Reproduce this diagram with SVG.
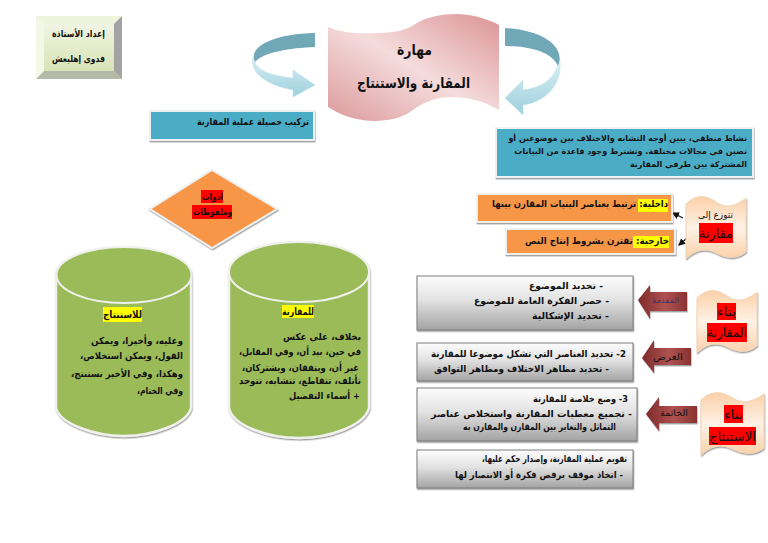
<svg xmlns="http://www.w3.org/2000/svg" width="768" height="543" viewBox="0 0 768 543">
<style>
text{font-family:"DejaVu Sans","Noto Sans",sans-serif;font-weight:bold;fill:#111;direction:rtl;text-anchor:start}
.c{text-anchor:middle}
.s{font-size:9.500px}
.t{font-size:15px}
.n{font-weight:normal}
.blue{fill:#4bacc6;stroke:#eef1f3;stroke-width:2;filter:url(#sh)}
.org{fill:#f79646;stroke:#eef0f0;stroke-width:2;filter:url(#sh)}
.gray{fill:url(#g);stroke:#7f7f7f;stroke-width:1;filter:url(#sh)}
.cy{fill:#9bbb59;stroke:#f0f0ec;stroke-width:2.500;filter:url(#sh)}
.wave{fill:url(#w);stroke:#f2d6b8;stroke-width:1;filter:url(#sh)}
.arr{fill:url(#a);filter:url(#sh)}
</style>
<defs>
<filter id="sh" x="-10%" y="-10%" width="120%" height="125%"><feDropShadow dx="0.6" dy="1.4" stdDeviation="0.7" flood-color="#555" flood-opacity="0.55"/></filter>
<linearGradient id="g" x1="0" y1="0" x2="0" y2="1"><stop offset="0" stop-color="#fdfdfd"/><stop offset="0.45" stop-color="#e2e2e2"/><stop offset="1" stop-color="#a3a3a3"/></linearGradient>
<linearGradient id="w" x1="0" y1="0" x2="0" y2="1"><stop offset="0" stop-color="#fbd0a8"/><stop offset="0.5" stop-color="#fff2e6"/><stop offset="1" stop-color="#fbd0a8"/></linearGradient>
<linearGradient id="a" x1="0" y1="0" x2="1" y2="0"><stop offset="0" stop-color="#7f2a2a"/><stop offset="0.55" stop-color="#b05252"/><stop offset="1" stop-color="#8a3232"/></linearGradient>
<linearGradient id="fl" x1="0" y1="1" x2="1" y2="0"><stop offset="0" stop-color="#dc9a9c"/><stop offset="0.5" stop-color="#f5dcdc"/><stop offset="1" stop-color="#dc9496"/></linearGradient>
<linearGradient id="bb" x1="0" y1="0" x2="0" y2="1"><stop offset="0" stop-color="#f4f8ea"/><stop offset="1" stop-color="#d3e0ae"/></linearGradient>
<linearGradient id="ca" x1="0" y1="0" x2="0" y2="1"><stop offset="0" stop-color="#d8eef4"/><stop offset="1" stop-color="#9dd0de"/></linearGradient>
<path id="wv" d="M0 7C10 -3 20 -2 30 5S50 9 60 1V55C50 63 40 61 30 56S10 52 0 62Z"/>
<marker id="tip" markerWidth="6" markerHeight="6" refX="5" refY="3" orient="auto"><path d="M0 0L6 3L0 6Z" fill="#111"/></marker>
</defs>

<g id="connectors">
<path d="M683 218L673 213" stroke="#111" stroke-width="1.200" fill="none" marker-end="url(#tip)"/>
<path d="M687 238L679 245" stroke="#111" stroke-width="1.200" fill="none" marker-end="url(#tip)"/>
</g>

<g id="author">
<rect x="36" y="16" width="86" height="63" fill="url(#bb)"/>
<path d="M36 16H122L114 24H44Z" fill="#eef4dc"/><path d="M122 16V79L114 71V24Z" fill="#a3a3a3"/><path d="M36 79H122L114 71H44Z" fill="#b5b9a8"/><path d="M36 16V79L44 71V24Z" fill="#f3f8e6"/>
<text x="105" y="37" font-size="9.500" textLength="53" lengthAdjust="spacingAndGlyphs">إعداد الأستاذة</text>
<text x="105" y="62" font-size="9.500" textLength="53" lengthAdjust="spacingAndGlyphs">فدوى إهليعش</text>
</g>

<g id="arrow-left">
<path d="M315 33V47C290 48 264 52 255 62C248 48 270 34 315 33Z" fill="#70a8b8"/>
<path d="M253 57C249 76 272 86 293 90V97L315 85L293 70V78C275 76 258 72 255 62Z" fill="url(#ca)" stroke="#bfe0e8" stroke-width="0.500"/>
</g>
<g id="arrow-right">
<path d="M505 28V46C530 46 552 52 558 66C566 48 545 30 505 28Z" fill="#70a8b8"/>
<path d="M560 62C562 85 545 102 523 105V115L505 98L523 80V90C540 88 553 80 557 67Z" fill="url(#ca)" stroke="#bfe0e8" stroke-width="0.500"/>
</g>

<g id="title">
<path d="M328 27C342 33 360 34 378 33C395 33 405 30 412 26C425 17 440 14 458 14C475 15 488 19 499 25V110C485 102 470 97 452 97C435 97 422 103 410 112C400 119 385 121 372 121C355 120 340 115 328 107Z" fill="url(#fl)"/>
<text class="t" x="432" y="55" textLength="35" lengthAdjust="spacingAndGlyphs">مهارة</text>
<text class="t" x="470" y="88" textLength="113" lengthAdjust="spacingAndGlyphs">المقارنة والاستنتاج</text>
</g>

<g id="box-synthesis">
<rect class="blue" x="150" y="111" width="164" height="29"/>
<text class="s" x="309" y="125" textLength="112" lengthAdjust="spacingAndGlyphs">تركيب حصيلة عملية المقارنة</text>
</g>

<g id="box-definition">
<rect class="blue" x="496" y="128" width="257" height="49"/>
<text x="747" y="141" font-size="8">نشاط منطقي، يبين أوجه التشابه والاختلاف بين موضوعين أو</text>
<text x="747" y="154" font-size="8">نصين في مجالات مختلفة. وتشترط وجود قاعدة من البيانات</text>
<text x="747" y="167" font-size="8">المشتركة بين طرفي المقارنة</text>
</g>

<g id="box-internal">
<rect class="org" x="477" y="194" width="195" height="28"/>
<rect x="638" y="199" width="30" height="13" fill="#ff0"/>
<text class="s" x="668" y="207" textLength="176" lengthAdjust="spacingAndGlyphs">داخلية: ترتبط بعناصر البنيات المقارن بينها</text>
</g>
<g id="box-external">
<rect class="org" x="506" y="229" width="169" height="25"/>
<rect x="633" y="236" width="36" height="12" fill="#ff0"/>
<text class="s" x="669" y="244" textLength="144" lengthAdjust="spacingAndGlyphs">خارجية: تقترن بشروط إنتاج النص</text>
</g>

<g id="wave-types">
<use href="#wv" class="wave" transform="translate(686,197)"/>
<rect x="699" y="223" width="34" height="20" fill="#f00"/>
<text class="n" x="733" y="218" font-size="9.500" textLength="35" lengthAdjust="spacingAndGlyphs">تتوزع إلى</text>
<text class="n" x="733" y="238" font-size="13" textLength="34" lengthAdjust="spacingAndGlyphs">مقارنة</text>
</g>

<g id="diamond">
<path class="org" d="M212 170L277 209L212 248L150 209Z"/>
<rect x="201" y="190" width="22" height="13" fill="#f00"/>
<rect x="192" y="205" width="40" height="14" fill="#f00"/>
<text x="223" y="200" font-size="9" textLength="21" lengthAdjust="spacingAndGlyphs">ادوات</text>
<text x="232" y="215" font-size="9" textLength="39" lengthAdjust="spacingAndGlyphs">وملفوظات</text>
</g>

<g id="cyl-conclusion">
<path class="cy" d="M56 275V408C60 424 95 436 124 436C152 436 187 424 191 408V275A67.500 28 0 0 0 56 275Z"/>
<ellipse cx="124" cy="275" rx="67.500" ry="28" fill="#9bbb59" stroke="#f0f0ec" stroke-width="2"/>
<rect x="103" y="307" width="39" height="15" fill="#ff0"/>
<text x="142" y="318" font-size="10" textLength="39" lengthAdjust="spacingAndGlyphs">للاستنتاج</text>
<text class="s" x="183" y="344" textLength="92" lengthAdjust="spacingAndGlyphs">وعليه، وأخيرا، ويمكن</text>
<text class="s" x="183" y="359" textLength="103" lengthAdjust="spacingAndGlyphs">القول، ويمكن استخلاص،</text>
<text class="s" x="183" y="377" textLength="112" lengthAdjust="spacingAndGlyphs">وهكذا، وفي الأخير نستنتج،</text>
<text class="s" x="183" y="394" textLength="46" lengthAdjust="spacingAndGlyphs">وفي الختام،</text>
</g>

<g id="cyl-comparison">
<path class="cy" d="M229 272V408C233 426 268 438 299 438C329 438 364 426 369 408V272A70 30 0 0 0 229 272Z"/>
<ellipse cx="299" cy="272" rx="70" ry="30" fill="#9bbb59" stroke="#f0f0ec" stroke-width="2"/>
<rect x="282" y="305" width="32" height="13" fill="#ff0"/>
<text x="314" y="315" font-size="10" textLength="32" lengthAdjust="spacingAndGlyphs">للمقارنة</text>
<text class="s" x="361" y="340" textLength="78" lengthAdjust="spacingAndGlyphs">بخلاف، على عكس</text>
<text class="s" x="361" y="355" textLength="122" lengthAdjust="spacingAndGlyphs">في حين، بيد أن، وفي المقابل،</text>
<text class="s" x="359" y="371" textLength="117" lengthAdjust="spacingAndGlyphs">غير أن، ويتفقان، ويشتركان،</text>
<text class="s" x="361" y="384" textLength="122" lengthAdjust="spacingAndGlyphs">تأتلف، تتقاطع، تتشابه، تتوحد</text>
<text class="s" x="360" y="399" textLength="71" lengthAdjust="spacingAndGlyphs">+ أسماء التفضيل</text>
</g>

<g id="box-intro">
<rect class="gray" x="417" y="276" width="216" height="54"/>
<text class="s" x="603" y="289" textLength="74" lengthAdjust="spacingAndGlyphs">- تحديد الموضوع</text>
<text class="s" x="609" y="304" textLength="135" lengthAdjust="spacingAndGlyphs">-   حصر الفكرة العامة للموضوع</text>
<text class="s" x="609" y="319" textLength="77" lengthAdjust="spacingAndGlyphs">-   تحديد الإشكالية</text>
</g>
<g id="box-body">
<rect class="gray" x="417" y="343" width="216" height="38"/>
<text class="s" x="626" y="357" textLength="195" lengthAdjust="spacingAndGlyphs">2- تحديد العناصر التي تشكل موضوعا للمقارنة</text>
<text class="s" x="609" y="372" textLength="175" lengthAdjust="spacingAndGlyphs">-   تحديد مظاهر الاختلاف ومظاهر التوافق</text>
</g>
<g id="box-conclusion">
<rect class="gray" x="417" y="388" width="220" height="53"/>
<text class="s" x="628" y="402" textLength="95" lengthAdjust="spacingAndGlyphs">3- وضع خلاصة للمقارنة</text>
<text class="s" x="632" y="417" textLength="201" lengthAdjust="spacingAndGlyphs">-   تجميع معطيات المقارنة واستخلاص عناصر</text>
<text class="s" x="616" y="430" textLength="153" lengthAdjust="spacingAndGlyphs">التماثل والتغاير بين المقارن والمقارن به</text>
</g>
<g id="box-evaluation">
<rect class="gray" x="417" y="450" width="216" height="38"/>
<text class="s" x="627" y="462" textLength="145" lengthAdjust="spacingAndGlyphs">تقويم عملية المقارنة، وإصدار حكم عليها،</text>
<text class="s" x="623" y="478" textLength="168" lengthAdjust="spacingAndGlyphs">-   اتخاذ موقف برفض فكرة أو الانتصار لها</text>
</g>

<g id="arrow-intro">
<path class="arr" d="M638 300L650 285V292H687V311H650V319Z"/>
<text class="n" x="679" y="303" font-size="8.500" textLength="27" lengthAdjust="spacingAndGlyphs" style="fill:#3c3560">المقدمة</text>
</g>
<g id="arrow-body">
<path class="arr" d="M642 358L654 340V348H691V365H654V373Z"/>
<text class="n" x="683" y="360" font-size="9" textLength="30" lengthAdjust="spacingAndGlyphs">العرض</text>
</g>
<g id="arrow-conclusion">
<path class="arr" d="M646 414L659 397V406H697V423H659V431Z"/>
<text class="n" x="688" y="416" font-size="9" textLength="28" lengthAdjust="spacingAndGlyphs">الخاتمة</text>
</g>

<g id="wave-build-comparison">
<use href="#wv" class="wave" transform="translate(697,291)"/>
<rect x="717" y="303" width="19" height="17" fill="#f00"/>
<rect x="707" y="323" width="40" height="19" fill="#f00"/>
<text class="n" x="736" y="316" font-size="13" textLength="19" lengthAdjust="spacingAndGlyphs">بناء</text>
<text class="n" x="747" y="337" font-size="13" textLength="40" lengthAdjust="spacingAndGlyphs">المقارنة</text>
</g>
<g id="wave-build-conclusion">
<use href="#wv" class="wave" transform="translate(701,393) scale(1.050,1)"/>
<rect x="724" y="405" width="19" height="18" fill="#f00"/>
<rect x="709" y="427" width="47" height="18" fill="#f00"/>
<text class="n" x="743" y="419" font-size="13" textLength="19" lengthAdjust="spacingAndGlyphs">بناء</text>
<text class="n" x="756" y="441" font-size="13" textLength="47" lengthAdjust="spacingAndGlyphs">الاستنتاج</text>
</g>
</svg>
